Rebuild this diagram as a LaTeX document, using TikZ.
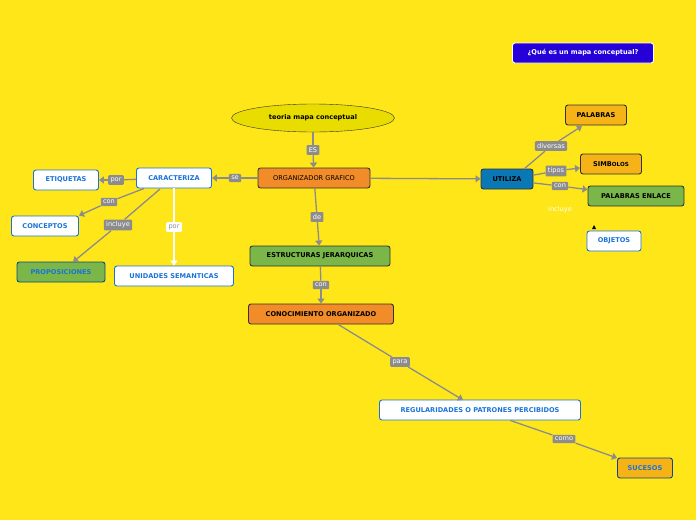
\documentclass[tikz,border=0pt]{standalone}
\usepackage{fontspec}
\setmainfont{DejaVu Sans}
\usetikzlibrary{arrows.meta,shapes.geometric}
\definecolor{bg}{HTML}{FFE619}
\definecolor{lk}{HTML}{8C8C8C}
\definecolor{org}{HTML}{F28C28}
\definecolor{grn}{HTML}{7AB648}
\definecolor{ylw}{HTML}{F5B318}
\definecolor{blu}{HTML}{0A78B4}
\definecolor{txb}{HTML}{1A73D9}
\begin{document}
\begin{tikzpicture}[x=1pt,y=-1pt,
  box/.style={draw=black!80,rounded corners=2.5pt,line width=0.9pt,minimum height=20pt,inner xsep=3pt,font=\fontsize{6.6}{8}\selectfont\bfseries},
  wbox/.style={box,draw=txb,fill=white,text=txb},
  lab/.style={fill=lk,text=white,inner sep=2.3pt,rounded corners=1pt,font=\fontsize{6.6}{8}\selectfont},
  ln/.style={draw=lk,line width=1.3pt},
  ar/.style={ln,-{Triangle[length=5pt,width=7pt]}}]
\fill[bg] (0,0) rectangle (696,520);
\useasboundingbox (0,0) rectangle (696,520);
\node[box,fill=blue!85!red,draw=white,text=white,minimum width=141pt] (title) at (583,53) {¿Qué es un mapa conceptual?};
\node[ellipse,draw=black!80,fill=yellow!80!olive,minimum width=163pt,minimum height=28pt,inner sep=0pt,font=\fontsize{6.6}{8}\selectfont\bfseries] (teo) at (313,118) {teoria mapa conceptual};
\node[box,fill=org,minimum width=112pt,font=\fontsize{6.6}{8}\selectfont] (org) at (314,178) {ORGANIZADOR GRAFICO};
\node[wbox,minimum width=75pt] (car) at (174,178) {CARACTERIZA};
\node[wbox,minimum width=65pt] (eti) at (66,180) {ETIQUETAS};
\node[wbox,minimum width=67pt] (con) at (45,226) {CONCEPTOS};
\node[box,fill=grn,draw=txb!60!black,text=txb,minimum width=88pt] (pro) at (61,272) {PROPOSICIONES};
\node[wbox,minimum width=119pt] (uni) at (174,276) {UNIDADES SEMANTICAS};
\node[box,fill=grn,minimum width=140pt] (est) at (320,256) {ESTRUCTURAS JERARQUICAS};
\node[box,fill=org,minimum width=145pt] (cono) at (321,314) {CONOCIMIENTO ORGANIZADO};
\node[wbox,minimum width=201pt] (reg) at (480,410) {REGULARIDADES O PATRONES PERCIBIDOS};
\node[box,fill=ylw,draw=txb!60!black,text=txb,minimum width=55pt] (suc) at (645,468) {SUCESOS};
\node[box,fill=blu,minimum width=52pt] (uti) at (507,179) {UTILIZA};
\node[box,fill=ylw,minimum width=61pt] (pal) at (596,115) {PALABRAS};
\node[box,fill=ylw,minimum width=61pt] (sim) at (611,164) {SIMB\fontsize{5.6}{6}\selectfont OLOS};
\node[box,fill=grn,minimum width=96pt] (pe) at (636,196) {PALABRAS ENLACE};
\node[wbox,minimum width=54pt] (obj) at (614,241) {OBJETOS};
% labels
\node[lab] (lES) at (313,150) {ES};
\node[lab] (lse) at (235,178) {se};
\node[lab] (lpor) at (116,180) {por};
\node[lab] (lcon) at (109,202) {con};
\node[lab] (linc) at (118,225) {incluye};
\node[lab,fill=white,text=lk] (lpor2) at (174,227) {por};
\node[lab] (lde) at (317,217) {de};
\node[lab] (lcon2) at (321,285) {con};
\node[lab] (lpara) at (400,362) {para};
\node[lab] (lcomo) at (564,439) {como};
\node[lab] (ldiv) at (551,146) {diversas};
\node[lab] (ltip) at (556,171) {tipos};
\node[lab] (lcon3) at (560,186) {con};
\node[text=white,font=\fontsize{6.6}{8}\selectfont] (linc2) at (560,210) {incluye};
% connectors
\draw[ln] (teo) -- (lES); \draw[ar] (lES) -- (org);
\draw[ln] (org) -- (lse); \draw[ar] (lse) -- (car);
\draw[ln] (car) -- (lpor); \draw[ar] (lpor) -- (eti);
\draw[ln] (car.south west)++(8,0) -- (lcon); \draw[ar] (lcon) -- (con.north east);
\draw[ln] (160,189) -- (linc); \draw[ar] (linc) -- (73,262);
\draw[draw=white,line width=1.3pt] (car) -- (lpor2); \draw[draw=white,line width=1.3pt,-{Triangle[length=5pt,width=7pt]}] (lpor2) -- (uni);
\draw[ln] (org) -- (lde); \draw[ar] (lde) -- (est);
\draw[ln] (est) -- (lcon2); \draw[ar] (lcon2) -- (cono);
\draw[ln] (cono) -- (lpara); \draw[ar] (lpara) -- (463,400);
\draw[ln] (reg) -- (lcomo); \draw[ar] (lcomo) -- (suc);
\draw[ar] (org) -- (uti);
\draw[ln] (524,169) -- (ldiv); \draw[ar] (ldiv) -- (582,126);
\draw[ln] (534,175) -- (ltip); \draw[ar] (ltip) -- (sim);
\draw[ln] (534,183) -- (lcon3); \draw[ar] (lcon3) -- (pe);
\fill[black] (592,229) -- (594,225) -- (596,229) -- cycle;
\end{tikzpicture}
\end{document}
